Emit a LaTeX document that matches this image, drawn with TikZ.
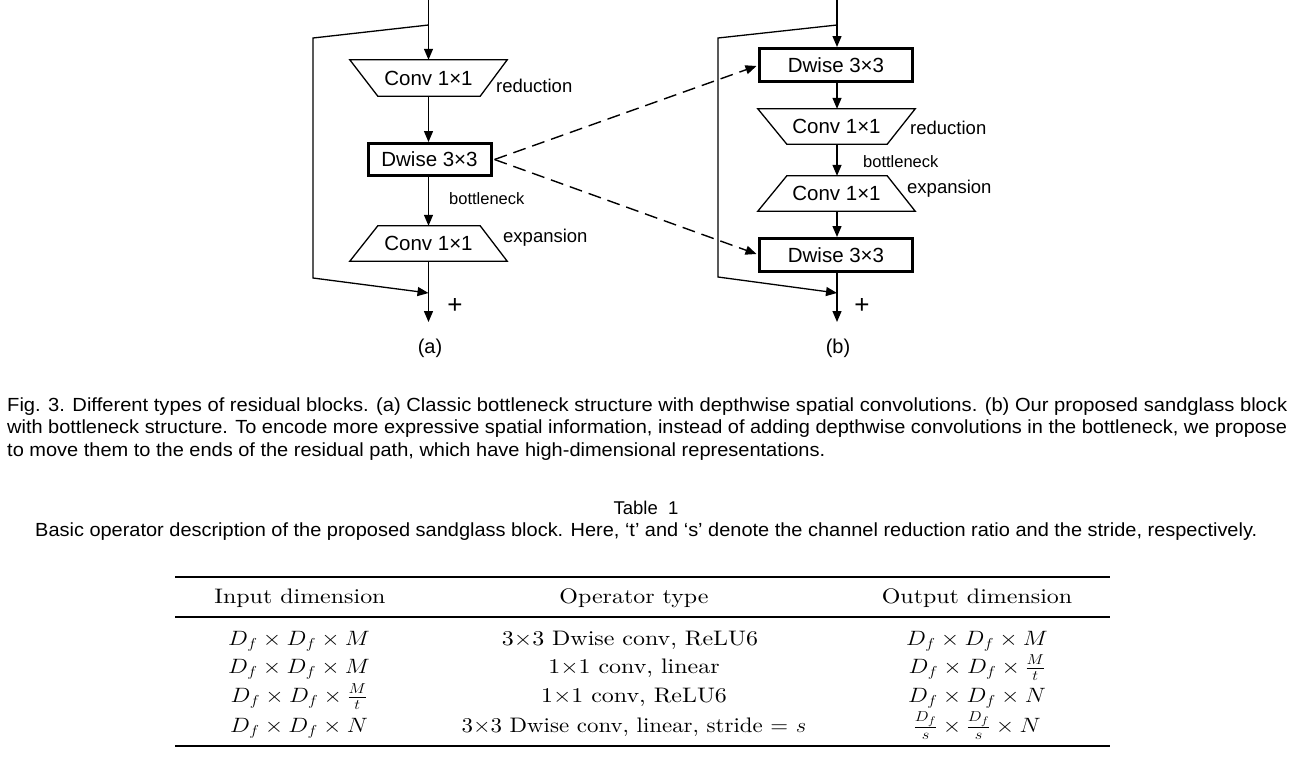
\documentclass[tikz,border=0pt]{standalone}
\usepackage{fontspec}
\usepackage{graphicx}
\usetikzlibrary{arrows.meta,calc}
\newfontfamily\arial{Liberation Sans}
\newfontfamily\lmten{lmroman10-regular}[Extension=.otf]
\newcommand\tcell[1]{\scalebox{1.14}[1]{#1}}
\newcommand\mcell[1]{\scalebox{1.14}[1]{#1}}
\newcommand\ocell[1]{\scalebox{1.09}[1]{#1}}
\begin{document}
\begin{tikzpicture}[x=1pt,y=-1pt,
  conn/.style={line width=1.3pt,-{Triangle[length=11pt,width=9pt]}},
  plainline/.style={line width=1.3pt},
  dconn/.style={line width=1.4pt,dash pattern=on 13pt off 7pt,-{Triangle[length=11pt,width=9pt]}},
  dwbox/.style={draw,line width=3pt,inner sep=0pt,font=\arial\fontsize{20.5}{24}\selectfont},
  trapbox/.style={inner sep=0pt,font=\arial\fontsize{20.5}{24}\selectfont},
  labl/.style={anchor=west,inner sep=0pt,font=\arial\fontsize{18.5}{22}\selectfont},
  blabl/.style={anchor=west,inner sep=0pt,font=\arial\fontsize{16.5}{20}\selectfont},
  plusl/.style={inner sep=0pt,font=\arial\fontsize{26}{28}\selectfont},
  subl/.style={inner sep=0pt,font=\arial\fontsize{20}{24}\selectfont},
  capl/.style={anchor=base west,inner sep=0pt,font=\arial\fontsize{19}{22}\selectfont},
  tcapl/.style={anchor=base,inner sep=0pt,font=\arial\fontsize{18.5}{21}\selectfont},
  tabl/.style={anchor=base,inner sep=0pt,font=\lmten\fontsize{21}{25}\selectfont},
  rulex/.style={line width=2pt},
]
\useasboundingbox (0,0) rectangle (1295,756);
\fill[white] (0,0) rectangle (1295,756);

% ---------------- (a) ----------------
\coordinate (ta) at (428.5,0);
\coordinate (sa) at (428.5,25);
\coordinate (ja) at (428.5,293);
\coordinate (oa) at (428.5,322);
\node[trapbox,minimum width=157pt,minimum height=36pt] (cra) at (428.5,78) {Conv 1×1};
\draw[plainline] (cra.north west) -- (cra.north east) -- ([xshift=-27pt]cra.south east) -- ([xshift=28pt]cra.south west) -- cycle;
\node[dwbox,minimum width=123pt,minimum height=32pt] (da) at (429.5,159.5) {Dwise 3×3};
\node[trapbox,minimum width=157pt,minimum height=35pt] (cea) at (428.5,243.5) {Conv 1×1};
\draw[plainline] ([xshift=28pt]cea.north west) -- ([xshift=-27pt]cea.north east) -- (cea.south east) -- (cea.south west) -- cycle;

\draw[conn] (ta) -- (cra.north);
\draw[conn] (cra.south) -- (cra.south |- da.north);
\draw[conn] (cra.south |- da.south) -- (cea.north);
\draw[conn] (cea.south) -- (oa);
\draw[conn] (sa) -- (313,38) -- (313,278) -- (ja);

\node[labl] (la1) at (496,86) {reduction};
\node[blabl] (la2) at (449,199) {bottleneck};
\node[labl] (la3) at (503,238) {expansion};
\node[plusl] (pa) at (455,306) {+};
\node[subl] (suba) at (430,348) {(a)};

% ---------------- (b) ----------------
\coordinate (tb) at (837,0);
\coordinate (sb) at (837,25);
\coordinate (jb) at (837,293);
\coordinate (ob) at (837,322);
\node[dwbox,minimum width=153pt,minimum height=33pt] (db1) at (836,65) {Dwise 3×3};
\node[trapbox,minimum width=157pt,minimum height=35pt] (crb) at (836.5,126.5) {Conv 1×1};
\draw[plainline] (crb.north west) -- (crb.north east) -- ([xshift=-28pt]crb.south east) -- ([xshift=29pt]crb.south west) -- cycle;
\node[trapbox,minimum width=157pt,minimum height=35pt] (ceb) at (836.5,193.5) {Conv 1×1};
\draw[plainline] ([xshift=29pt]ceb.north west) -- ([xshift=-28pt]ceb.north east) -- (ceb.south east) -- (ceb.south west) -- cycle;
\node[dwbox,minimum width=153pt,minimum height=33pt] (db2) at (836,255) {Dwise 3×3};

\draw[conn] (tb) -- (tb |- db1.north);
\draw[conn] (tb |- db1.south) -- (tb |- crb.north);
\draw[conn] (tb |- crb.south) -- (tb |- ceb.north);
\draw[conn] (tb |- ceb.south) -- (tb |- db2.north);
\draw[conn] (tb |- db2.south) -- (ob);
\draw[conn] (sb) -- (718,38) -- (718,277) -- (jb);

\node[labl] (lb1) at (910,128) {reduction};
\node[blabl] (lb2) at (863,162) {bottleneck};
\node[labl] (lb3) at (907,189) {expansion};
\node[plusl] (pb) at (862,306) {+};
\node[subl] (subb) at (838,348) {(b)};

% dashed connectors
\draw[dconn] ([xshift=2pt]da.east) -- ([xshift=-1.5pt,yshift=-1pt]db1.west);
\draw[dconn] ([xshift=2pt]da.east) -- ([xshift=-1.5pt,yshift=1pt]db2.west);

% ---------------- caption ----------------
\node[capl] (c1) at (7,411) {\resizebox{1280pt}{\height}{Fig. 3. Different types of residual blocks. (a) Classic bottleneck structure with depthwise spatial convolutions. (b) Our proposed sandglass block}};
\node[capl] (c2) at (7,433.5) {\resizebox{1280pt}{\height}{with bottleneck structure. To encode more expressive spatial information, instead of adding depthwise convolutions in the bottleneck, we propose}};
\node[capl] (c3) at (7,456) {\resizebox{818pt}{\height}{to move them to the ends of the residual path, which have high-dimensional representations.}};

\node[tcapl] (t0) at (646,514) {Table\ \ 1};
\node[capl] (t1) at (35,536) {\resizebox{1222pt}{\height}{Basic operator description of the proposed sandglass block. Here, ‘t’ and ‘s’ denote the channel reduction ratio and the stride, respectively.}};

% ---------------- table ----------------
\draw[rulex] (175,577) -- (1110,577);
\draw[line width=1.7pt] (175,617) -- (1110,617);
\draw[rulex] (175,746) -- (1110,746);

\node[tabl] (h1) at (300,603) {\tcell{Input dimension}};
\node[tabl] (h2) at (634,603) {\tcell{Operator type}};
\node[tabl] (h3) at (977,603) {\tcell{Output dimension}};

\node[tabl] (a1) at (299,645) {\mcell{$D_f\times D_f\times M$}};
\node[tabl] (a2) at (299,673) {\mcell{$D_f\times D_f\times M$}};
\node[tabl] (a3) at (299,702) {\mcell{$D_f\times D_f\times \frac{M}{t}$}};
\node[tabl] (a4) at (299,732) {\mcell{$D_f\times D_f\times N$}};

\node[tabl] (b1) at (630,645) {\tcell{3$\times$3 Dwise conv, ReLU6}};
\node[tabl] (b2) at (634,673) {\tcell{1$\times$1 conv, linear}};
\node[tabl] (b3) at (634,702) {\tcell{1$\times$1 conv, ReLU6}};
\node[tabl] (b4) at (634,732) {\ocell{3$\times$3 Dwise conv, linear, stride = $s$}};

\node[tabl] (o1) at (977,645) {\mcell{$D_f\times D_f\times M$}};
\node[tabl] (o2) at (977,673) {\mcell{$D_f\times D_f\times \frac{M}{t}$}};
\node[tabl] (o3) at (977,702) {\mcell{$D_f\times D_f\times N$}};
\node[tabl] (o4) at (977,732) {\mcell{$\frac{D_f}{s}\times \frac{D_f}{s}\times N$}};
\end{tikzpicture}
\end{document}
